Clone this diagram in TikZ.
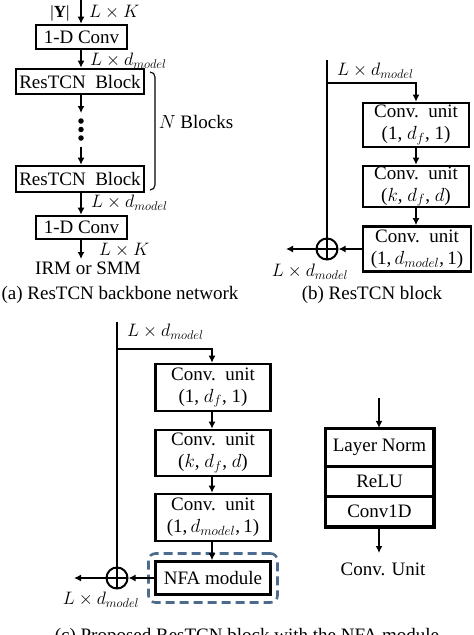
\documentclass[tikz,border=0pt]{standalone}
\usepackage{fix-cm}
\usepackage{fontspec}
\setmainfont{Liberation Serif}
\usetikzlibrary{arrows.meta}
\newcommand{\fsbig}{\fontsize{19}{21}\selectfont}
\newcommand{\fslab}{\fontsize{18}{20}\selectfont}
\definecolor{dashblue}{HTML}{4D6B8C}
\begin{document}
\begin{tikzpicture}[x=1pt,y=-1pt,
  blk/.style={draw, line width=2.6pt, fill=white, inner sep=0pt, font=\fsbig, align=center},
  arr/.style={-{Latex[length=7pt,width=7pt]}, line width=2.2pt},
  ln/.style={line width=2.2pt},
  lab/.style={font=\fslab, inner sep=0pt},
  txt/.style={font=\fsbig, inner sep=0pt},
  plus/.style={draw, circle, line width=2pt, minimum size=21pt, inner sep=0pt,
    path picture={\draw[line width=1.8pt] (path picture bounding box.north) -- (path picture bounding box.south)
      (path picture bounding box.west) -- (path picture bounding box.east);}},
  dotn/.style={circle, fill=black, minimum size=5.5pt, inner sep=0pt}
]
\useasboundingbox (0,0) rectangle (474,635);

% ---------- (a) backbone ----------
\coordinate (atop) at (81,-2);
\node[txt, font=\fontsize{17}{19}\selectfont] (y) at (60,13) {\textbar\textbf{Y}\textbar};
\node[blk, minimum width=91pt, minimum height=24pt] (conv1) at (81.5,37) {1-D Conv};
\node[blk, minimum width=128pt, minimum height=25pt] (rb1) at (80,81.5) {ResTCN\ \ Block};
\node[dotn] (d1) at (81,121) {};
\node[dotn] (d2) at (81,129.5) {};
\node[dotn] (d3) at (81,138) {};
\coordinate (dtop) at (81,113);
\coordinate (dbot) at (81,147);
\node[blk, minimum width=128pt, minimum height=26pt] (rb2) at (80,179) {ResTCN\ \ Block};
\node[blk, minimum width=91pt, minimum height=23pt] (conv2) at (81.5,227.5) {1-D Conv};
\coordinate (aout) at (81,259);
\node[txt] (irm) at (88,268) {IRM or SMM};

\draw[arr] (atop) -- (conv1.north -| atop);
\draw[arr] (conv1.south -| atop) -- (rb1.north -| atop);
\draw[arr] (rb1.south -| atop) -- (dtop);
\draw[arr] (dbot) -- (rb2.north -| atop);
\draw[arr] (rb2.south -| atop) -- (conv2.north -| atop);
\draw[arr] (conv2.south -| atop) -- (aout);

\node[lab, anchor=west] (la1) at (89,12) {$L\times K$};
\node[lab, anchor=west] (la2) at (90,61) {$L\times d_{model}$};
\node[lab, anchor=west] (la3) at (91,203) {$L\times d_{model}$};
\node[lab, anchor=west] (la4) at (99,250) {$L\times K$};

\coordinate (br1) at (150,72);
\coordinate (br2) at (150,190);
\draw[line width=1.1pt] (br1) to[out=0,in=90] (155,77) -- (155,185) to[out=-90,in=0] (br2);
\node[txt] (nb) at (196,122) {$N$ Blocks};

\node[txt] (capa) at (120,295) {(a) ResTCN backbone network};

% ---------- (b) ResTCN block ----------
\coordinate (btop) at (327,60);
\coordinate (bbr) at (327,83);
\coordinate (bbr2) at (416,83);
\node[blk, minimum width=106pt, minimum height=44pt] (b1) at (416,125) {Conv.\ \ unit\\[1pt](1,\ $d_f$,\ 1)};
\node[blk, minimum width=106pt, minimum height=41pt] (b2) at (416,186.5) {Conv.\ \ unit\\[1pt]($k$,\ $d_f$,\ $d$)};
\node[blk, minimum width=108pt, minimum height=45pt] (b3) at (417,249) {Conv.\ \ unit\\[1pt](1,\,$d_{model}$,\,1)};
\node[plus] (bp) at (327,249) {};
\coordinate (bout) at (286,249);

\draw[ln] (btop) -- (bp.north);
\draw[arr] (bbr) -- (bbr2) -- (b1.north -| bbr2);
\draw[arr] (b1.south -| bbr2) -- (b2.north -| bbr2);
\draw[arr] (b2.south -| bbr2) -- (b3.north -| bbr2);
\draw[arr] (b3.west) -- (bp.east);
\draw[arr] (bp.west) -- (bout);
\node[lab, anchor=west] (lb1) at (337,71) {$L\times d_{model}$};
\node[lab] (lb2) at (310,272) {$L\times d_{model}$};
\node[txt] (capb) at (372,295) {(b) ResTCN block};

% ---------- (c) ResTCN block with NFA ----------
\coordinate (ctop) at (117,322);
\coordinate (cbr) at (117,349);
\coordinate (cbr2) at (212,349);
\node[blk, minimum width=115pt, minimum height=47pt] (c1) at (213,387.5) {Conv.\ \ unit\\[1pt](1,\ $d_f$,\ 1)};
\node[blk, minimum width=115pt, minimum height=46pt] (c2) at (213,453) {Conv.\ \ unit\\[1pt]($k$,\ $d_f$,\ $d$)};
\node[blk, minimum width=115pt, minimum height=47pt] (c3) at (213,517.5) {Conv.\ \ unit\\[1pt](1,\,$d_{model}$,\,1)};
\node[blk, minimum width=115pt, minimum height=33pt] (nfa) at (213,578) {NFA module};
\node[draw=dashblue, line width=2.6pt, dash pattern=on 9pt off 5pt, rounded corners=7pt,
  minimum width=129pt, minimum height=49pt, inner sep=0pt] (dash) at (213,578) {};
\node[plus] (cp) at (117,578) {};
\coordinate (cout) at (74,578);

\draw[ln] (ctop) -- (cp.north);
\draw[arr] (cbr) -- (cbr2) -- (c1.north -| cbr2);
\draw[arr] (c1.south -| cbr2) -- (c2.north -| cbr2);
\draw[arr] (c2.south -| cbr2) -- (c3.north -| cbr2);
\draw[arr] (c3.south -| cbr2) -- (nfa.north -| cbr2);
\draw[arr] (nfa.west) -- (cp.east);
\draw[arr] (cp.west) -- (cout);
\node[lab, anchor=west] (lc1) at (127,332) {$L\times d_{model}$};
\node[lab] (lc2) at (101,600) {$L\times d_{model}$};
\node[txt, anchor=base] (capc) at (247,641) {(c) Proposed ResTCN block with the NFA module};

% ---------- (d) Conv unit ----------
\coordinate (dtp) at (379,398);
\node[blk, line width=2.2pt, minimum width=107pt, minimum height=37pt] (dln) at (379.5,447.5) {Layer Norm};
\node[blk, line width=2.2pt, minimum width=107pt, minimum height=30pt] (drl) at (379.5,481.5) {ReLU};
\node[blk, line width=2.2pt, minimum width=107pt, minimum height=29pt] (dcv) at (379.5,511.5) {Conv1D};
\draw[line width=2.8pt] (dln.north west) rectangle (dcv.south east);
\coordinate (dout) at (379,553);
\draw[arr] (dtp) -- (dln.north -| dtp);
\draw[arr] (dcv.south -| dtp) -- (dout);
\node[txt] (cu) at (383,569) {Conv. Unit};

\end{tikzpicture}
\end{document}
